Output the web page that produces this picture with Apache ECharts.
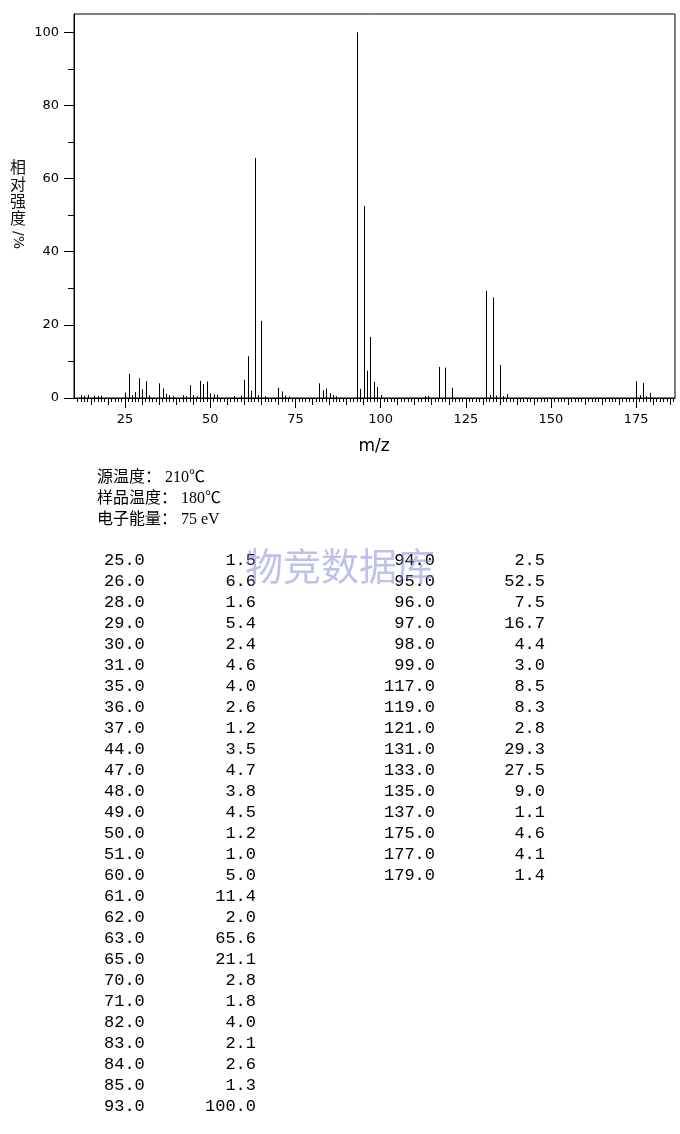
<!DOCTYPE html>
<html>
<head>
<meta charset="utf-8">
<script src="https://cdn.jsdelivr.net/npm/echarts@6/dist/echarts.min.js"></script>
<style>
html,body{margin:0;padding:0;background:#fff;}
#c{width:680px;height:1134px;}
</style>
</head>
<body>
<div id="c"></div>
<script>
// listed peaks (m/z, relative intensity %)
const mz = [25,26,28,29,30,31,35,36,37,44,47,48,49,50,51,60,61,62,63,65,70,71,82,83,84,85,93,94,95,96,97,98,99,117,119,121,131,133,135,137,175,177,179];
const intensity = [1.5,6.6,1.6,5.4,2.4,4.6,4.0,2.6,1.2,3.5,4.7,3.8,4.5,1.2,1.0,5.0,11.4,2.0,65.6,21.1,2.8,1.8,4.0,2.1,2.6,1.3,100.0,2.5,52.5,7.5,16.7,4.4,3.0,8.5,8.3,2.8,29.3,27.5,9.0,1.1,4.6,4.1,1.4];
// small unlisted peaks
const minorMz = [12,13,14,16,17,18,27,32,38,39,42,43,45,46,52,57,59,64,66,72,73,86,87,100,113,114,132,134,136,176,178];
const minorInt = [0.8,0.6,0.9,0.6,0.5,0.7,0.8,0.7,0.8,0.5,0.8,0.5,0.8,0.5,0.9,0.5,0.7,0.8,0.5,0.7,0.4,0.8,0.5,0.8,0.5,0.6,0.8,0.7,0.5,0.8,0.5];

const xMajor = [25,50,75,100,125,150,175];
const xMid = [15,20,30,35,40,45,55,60,65,70,80,85,90,95,105,110,115,120,130,135,140,145,155,160,165,170,180,185];
const xMinor = [];
for (let v = 11; v <= 186; v++) { if (v % 5 !== 0) xMinor.push(v); }
const yMajor = [0,20,40,60,80,100];
const yMinor = [10,30,50,70,90];

const infoLines = ['源温度： 210℃','样品温度： 180℃','电子能量： 75 eV'];
const yNameChars = ['相','对','强','度'];

const X_MIN = 10, X_MAX = 186.4, Y_MAX = 105;

const peaks = mz.map((m,i)=>[m,intensity[i]]).concat(minorMz.map((m,i)=>[m,minorInt[i]]));

const chart = echarts.init(document.getElementById('c'), null, {renderer:'canvas'});

const graphics = [];
const txt = (text, x, y, font, align, fill) => graphics.push({
  type:'text', x:x, y:y, silent:true,
  style:{text:text, font:font, fill:fill||'#000', align:align||'left', verticalAlign:'middle', textAlign:align||'left', textVerticalAlign:'middle'}
});

// y axis name (vertical)
yNameChars.forEach((ch,i)=>txt(ch, 18, 167 + i*17, '16px "Noto Sans CJK SC"', 'center', '#111'));
graphics.push({type:'text', x:18, y:240, rotation:-Math.PI/2, silent:true,
  style:{text:'/%', font:'14px "DejaVu Sans"', fill:'#111', align:'center', verticalAlign:'middle', textAlign:'center', textVerticalAlign:'middle'}});
// x axis name
txt('m/z', 374, 447, '17px "DejaVu Sans"', 'center', '#000');

// info lines
infoLines.forEach((t,i)=>txt(t, 97, 478 + i*21, '16px "Liberation Serif", "Noto Sans CJK SC"', 'left', '#000'));

// table
const mono = '17px "Liberation Mono"';
const nLeft = 27;
for (let i = 0; i < mz.length; i++) {
  const col = i < nLeft ? 0 : 1;
  const row = col === 0 ? i : i - nLeft;
  const y = 560 + row*21;
  if (col === 0) {
    txt(mz[i].toFixed(1), 104, y, mono, 'left');
    txt(intensity[i].toFixed(1), 256, y, mono, 'right');
  } else {
    txt(mz[i].toFixed(1), 435, y, mono, 'right');
    txt(intensity[i].toFixed(1), 545, y, mono, 'right');
  }
}
// watermark
graphics.push({type:'text', x:340, y:566, silent:true, z:100,
  style:{text:'物竞数据库', font:'38px "Noto Sans CJK SC"', fill:'rgba(130,130,220,0.5)', align:'center', verticalAlign:'middle', textAlign:'center', textVerticalAlign:'middle'}});

const axisBase = {type:'value', min:X_MIN, max:X_MAX, position:'bottom', splitLine:{show:false}};
const option = {
  animation:false,
  backgroundColor:'#fff',
  grid:{left:74, top:14, width:601, height:384, show:true, borderColor:'#000', borderWidth:1, backgroundColor:'transparent'},
  xAxis:[
    Object.assign({}, axisBase, {
      axisLine:{show:true, lineStyle:{color:'#000', width:1}},
      axisTick:{show:true, length:10, customValues:xMajor, lineStyle:{color:'#000'}},
      axisLabel:{show:true, customValues:xMajor, margin:15, fontSize:13, fontFamily:'DejaVu Sans', color:'#000'}
    }),
    Object.assign({}, axisBase, {
      axisLine:{show:false},
      axisTick:{show:true, length:7, customValues:xMid, lineStyle:{color:'#000'}},
      axisLabel:{show:false}
    }),
    Object.assign({}, axisBase, {
      axisLine:{show:false},
      axisTick:{show:true, length:4, customValues:xMinor, lineStyle:{color:'#000'}},
      axisLabel:{show:false}
    })
  ],
  yAxis:[
    {type:'value', min:0, max:Y_MAX, position:'left', splitLine:{show:false},
     axisLine:{show:true, lineStyle:{color:'#000'}},
     axisTick:{show:true, length:10, customValues:yMajor, lineStyle:{color:'#000'}},
     axisLabel:{show:true, customValues:yMajor, margin:15, fontSize:13, fontFamily:'DejaVu Sans', color:'#000'}},
    {type:'value', min:0, max:Y_MAX, position:'left', splitLine:{show:false},
     axisLine:{show:false},
     axisTick:{show:true, length:6, customValues:yMinor, lineStyle:{color:'#000'}},
     axisLabel:{show:false}}
  ],
  series:[{
    type:'custom', xAxisIndex:0, yAxisIndex:0, clip:true,
    data:peaks,
    renderItem:function(params, api){
      const p0 = api.coord([api.value(0), 0]);
      const p1 = api.coord([api.value(0), api.value(1)]);
      const x = Math.round(p0[0]) + 0.5;
      return {type:'line', shape:{x1:x, y1:p0[1], x2:x, y2:p1[1]}, style:{stroke:'#000', lineWidth:1}};
    }
  }],
  graphic:graphics
};
chart.setOption(option);
</script>
</body>
</html>
